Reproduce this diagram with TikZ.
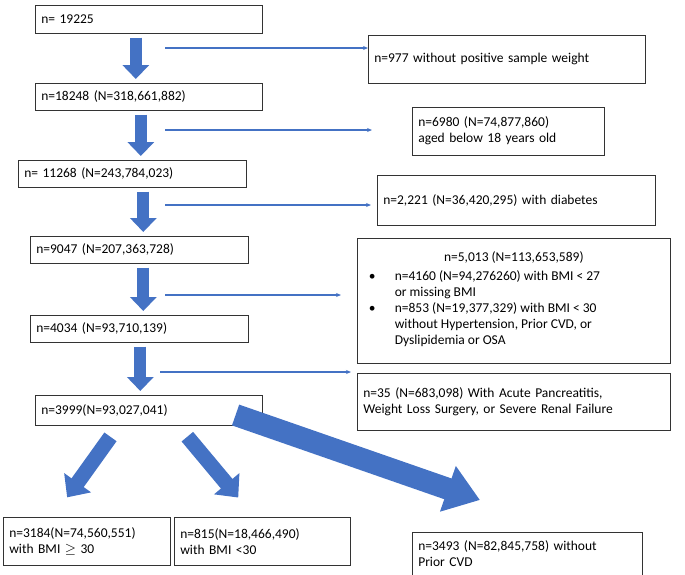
\documentclass[tikz,border=0pt]{standalone}
\usepackage{fontspec}
\setmainfont{Carlito}
\usetikzlibrary{calc,arrows.meta}
\definecolor{flowblue}{HTML}{4472C4}
\tikzset{
  box/.style      = {draw=black!80, line width=0.6pt, anchor=north west,
                     align=left, inner xsep=6pt, inner ysep=3pt,
                     font=\fontsize{13.5}{16}\selectfont},
  block/.style    = {draw=flowblue, line width=12pt, shorten <=4pt, shorten >=4pt,
                     -{Triangle[width=26pt,length=14pt]}},
  bigblock/.style = {block, line width=22pt, -{Triangle[width=46pt,length=34pt]}},
  side/.style     = {draw=flowblue, line width=1.2pt, -{Stealth[length=5pt,width=4pt]}}
}
\begin{document}
\begin{tikzpicture}[x=1pt,y=-1pt]
  \useasboundingbox (0,0) rectangle (685,574);
  % left column
  \node[box, text width=215, minimum height=28] (r1) at (35,5)  {n= 19225};
  \node[box, text width=215, minimum height=27] (r3) at (35,83) {n=18248 (N=318,661,882)};
  \node[box, text width=216, minimum height=27] (r5) at (18,160) {n= 11268 (N=243,784,023)};
  \node[box, text width=206, minimum height=27] (r7) at (30,236) {n=9047 (N=207,363,728)};
  \node[box, text width=206, minimum height=27] (r9) at (30,315) {n=4034 (N=93,710,139)};
  \node[box, text width=215, minimum height=30] (r11) at (35,395) {n=3999(N=93,027,041)};
  % exclusions
  \node[box, text width=265, minimum height=48, anchor=west] (x1) at (368,59)
    {n=977 without positive sample weight};
  \node[box, text width=180, minimum height=48, anchor=west] (x2) at (412,131)
    {n=6980 (N=74,877,860)\\aged below 18 years old};
  \node[box, text width=266, minimum height=50, anchor=west] (x3) at (377,200)
    {n=2,221 (N=36,420,295) with diabetes};
  \node[box, minimum width=313, minimum height=125, inner xsep=0pt] (x4) at (357,238)
    {\begin{minipage}{306pt}\centering n=5,013 (N=113,653,589)\\[5pt]
     \raggedright
     \begin{tabular}{@{\hspace{8pt}}p{26pt}@{}l@{}}
       \textbullet & n=4160 (N=94,276260) with BMI < 27\\
                   & or missing BMI\\
       \textbullet & n=853 (N=19,377,329) with BMI < 30\\
                   & without Hypertension, Prior CVD, or\\
                   & Dyslipidemia or OSA
     \end{tabular}\end{minipage}};
  \node[box, text width=301, minimum height=57] (x5) at (357,373)
    {n=35 (N=683,098) With Acute Pancreatitis,\\Weight Loss Surgery, or Severe Renal Failure};
  % final groups
  \node[box, text width=155, minimum height=48] (g1) at (3,517)
    {n=3184(N=74,560,551)\\with BMI $\geq$ 30};
  \node[box, text width=164, minimum height=48] (g2) at (174,517)
    {n=815(N=18,466,490)\\with BMI <30};
  \node[box, text width=218, minimum height=43] (g3) at (412,532)
    {n=3493 (N=82,845,758) without\\Prior CVD};
  % down arrows
  \draw[block] ([xshift=-13]r1.south) -- ([xshift=-13]r1.south |- r3.north);
  \draw[block] ([xshift=-8]r3.south) -- ([xshift=-8]r3.south |- r5.north);
  \draw[block] ([xshift=11]r5.south) -- ([xshift=11]r5.south |- r7.north);
  \draw[block] ([xshift=4]r7.south) -- ([xshift=4]r7.south |- r9.north);
  \draw[block] ([xshift=1]r9.south) -- ([xshift=1]r9.south |- r11.north);
  \draw[block, line width=15pt, -{Triangle[width=32pt,length=18pt]}]
    ([xshift=-36,yshift=-8]r11.south) -- ([xshift=-84,yshift=-75]r11.south);
  \draw[block, line width=15pt, -{Triangle[width=32pt,length=18pt]}]
    ([xshift=36,yshift=-8]r11.south) -- ([xshift=92,yshift=-75]r11.south);
  \draw[bigblock, shorten <=0pt, shorten >=0pt]
    ([xshift=-27,yshift=-20]r11.north east) -- ([xshift=68,yshift=32]g3.north west);
  % side arrows
  \coordinate (t1) at (165,48);
  \coordinate (t2) at (165,130);
  \coordinate (t3) at (165,205);
  \coordinate (t4) at (165,295);
  \coordinate (t5) at (160,372);
  \draw[side] (t1) -- (t1 -| x1.west);
  \draw[side] (t2) -- ($(t2 -| x2.west)+(-40,0)$);
  \draw[side] (t3) -- ($(t3 -| x3.west)+(-6,0)$);
  \draw[side] (t4) -- ($(t4 -| x4.west)+(-16,0)$);
  \draw[side] (t5) -- ($(t5 -| x5.west)+(-6,0)$);
\end{tikzpicture}
\end{document}
